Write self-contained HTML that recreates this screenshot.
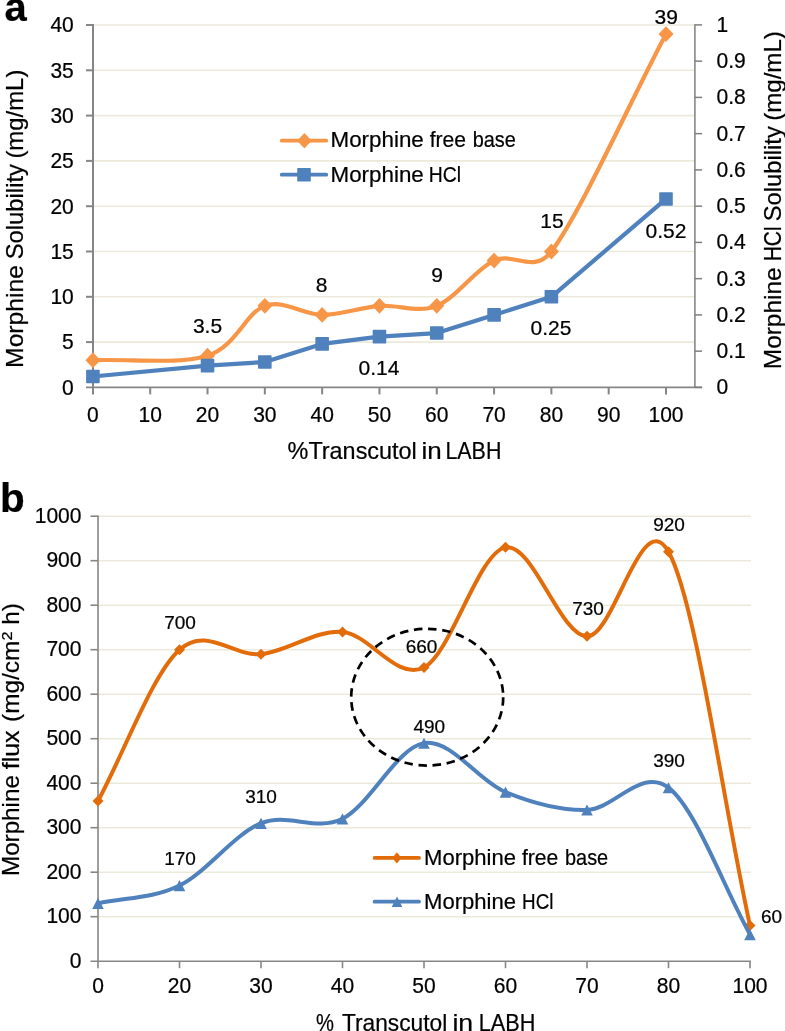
<!DOCTYPE html>
<html><head><meta charset="utf-8"><title>Figure</title>
<style>html,body{margin:0;padding:0;background:#fff}svg{display:block}text{font-family:"Liberation Sans", sans-serif;fill:#000;stroke:#000;stroke-width:0.22px}</style>
</head><body>
<svg width="785" height="1031" viewBox="0 0 785 1031">
<rect width="785" height="1031" fill="#fff"/>
<line x1="93.0" y1="342.10" x2="694.9" y2="342.10" stroke="#ECE9DB" stroke-width="1.6"/>
<line x1="93.0" y1="296.80" x2="694.9" y2="296.80" stroke="#ECE9DB" stroke-width="1.6"/>
<line x1="93.0" y1="251.50" x2="694.9" y2="251.50" stroke="#ECE9DB" stroke-width="1.6"/>
<line x1="93.0" y1="206.20" x2="694.9" y2="206.20" stroke="#ECE9DB" stroke-width="1.6"/>
<line x1="93.0" y1="160.90" x2="694.9" y2="160.90" stroke="#ECE9DB" stroke-width="1.6"/>
<line x1="93.0" y1="115.60" x2="694.9" y2="115.60" stroke="#ECE9DB" stroke-width="1.6"/>
<line x1="93.0" y1="70.30" x2="694.9" y2="70.30" stroke="#ECE9DB" stroke-width="1.6"/>
<line x1="93.0" y1="25.00" x2="694.9" y2="25.00" stroke="#ECE9DB" stroke-width="1.6"/>
<line x1="93.0" y1="24.00" x2="93.0" y2="394.40" stroke="#868686" stroke-width="2"/>
<line x1="86.0" y1="387.40" x2="702.1" y2="387.40" stroke="#868686" stroke-width="1.8"/>
<line x1="694.9" y1="24.30" x2="694.9" y2="387.40" stroke="#7F7F7F" stroke-width="1.5"/>
<line x1="86.0" y1="342.10" x2="93.0" y2="342.10" stroke="#868686" stroke-width="2"/>
<line x1="86.0" y1="296.80" x2="93.0" y2="296.80" stroke="#868686" stroke-width="2"/>
<line x1="86.0" y1="251.50" x2="93.0" y2="251.50" stroke="#868686" stroke-width="2"/>
<line x1="86.0" y1="206.20" x2="93.0" y2="206.20" stroke="#868686" stroke-width="2"/>
<line x1="86.0" y1="160.90" x2="93.0" y2="160.90" stroke="#868686" stroke-width="2"/>
<line x1="86.0" y1="115.60" x2="93.0" y2="115.60" stroke="#868686" stroke-width="2"/>
<line x1="86.0" y1="70.30" x2="93.0" y2="70.30" stroke="#868686" stroke-width="2"/>
<line x1="86.0" y1="25.00" x2="93.0" y2="25.00" stroke="#868686" stroke-width="2"/>
<line x1="150.21" y1="387.40" x2="150.21" y2="394.40" stroke="#868686" stroke-width="2"/>
<line x1="207.52" y1="387.40" x2="207.52" y2="394.40" stroke="#868686" stroke-width="2"/>
<line x1="264.83" y1="387.40" x2="264.83" y2="394.40" stroke="#868686" stroke-width="2"/>
<line x1="322.14" y1="387.40" x2="322.14" y2="394.40" stroke="#868686" stroke-width="2"/>
<line x1="379.45" y1="387.40" x2="379.45" y2="394.40" stroke="#868686" stroke-width="2"/>
<line x1="436.76" y1="387.40" x2="436.76" y2="394.40" stroke="#868686" stroke-width="2"/>
<line x1="494.07" y1="387.40" x2="494.07" y2="394.40" stroke="#868686" stroke-width="2"/>
<line x1="551.38" y1="387.40" x2="551.38" y2="394.40" stroke="#868686" stroke-width="2"/>
<line x1="608.69" y1="387.40" x2="608.69" y2="394.40" stroke="#868686" stroke-width="2"/>
<line x1="666.00" y1="387.40" x2="666.00" y2="394.40" stroke="#868686" stroke-width="2"/>
<line x1="694.9" y1="387.40" x2="702.1" y2="387.40" stroke="#7F7F7F" stroke-width="1.5"/>
<line x1="694.9" y1="351.15" x2="702.1" y2="351.15" stroke="#7F7F7F" stroke-width="1.5"/>
<line x1="694.9" y1="314.90" x2="702.1" y2="314.90" stroke="#7F7F7F" stroke-width="1.5"/>
<line x1="694.9" y1="278.65" x2="702.1" y2="278.65" stroke="#7F7F7F" stroke-width="1.5"/>
<line x1="694.9" y1="242.40" x2="702.1" y2="242.40" stroke="#7F7F7F" stroke-width="1.5"/>
<line x1="694.9" y1="206.15" x2="702.1" y2="206.15" stroke="#7F7F7F" stroke-width="1.5"/>
<line x1="694.9" y1="169.90" x2="702.1" y2="169.90" stroke="#7F7F7F" stroke-width="1.5"/>
<line x1="694.9" y1="133.65" x2="702.1" y2="133.65" stroke="#7F7F7F" stroke-width="1.5"/>
<line x1="694.9" y1="97.40" x2="702.1" y2="97.40" stroke="#7F7F7F" stroke-width="1.5"/>
<line x1="694.9" y1="61.15" x2="702.1" y2="61.15" stroke="#7F7F7F" stroke-width="1.5"/>
<line x1="694.9" y1="24.90" x2="702.1" y2="24.90" stroke="#7F7F7F" stroke-width="1.5"/>
<text transform="translate(73.80,394.70) scale(0.965,1)" font-size="21.8" text-anchor="end">0</text>
<text transform="translate(73.80,349.40) scale(0.965,1)" font-size="21.8" text-anchor="end">5</text>
<text transform="translate(73.80,304.10) scale(0.965,1)" font-size="21.8" text-anchor="end">10</text>
<text transform="translate(73.80,258.80) scale(0.965,1)" font-size="21.8" text-anchor="end">15</text>
<text transform="translate(73.80,213.50) scale(0.965,1)" font-size="21.8" text-anchor="end">20</text>
<text transform="translate(73.80,168.20) scale(0.965,1)" font-size="21.8" text-anchor="end">25</text>
<text transform="translate(73.80,122.90) scale(0.965,1)" font-size="21.8" text-anchor="end">30</text>
<text transform="translate(73.80,77.60) scale(0.965,1)" font-size="21.8" text-anchor="end">35</text>
<text transform="translate(73.80,32.30) scale(0.965,1)" font-size="21.8" text-anchor="end">40</text>
<text transform="translate(92.90,421.80) scale(0.965,1)" font-size="21.8" text-anchor="middle">0</text>
<text transform="translate(150.21,421.80) scale(0.965,1)" font-size="21.8" text-anchor="middle">10</text>
<text transform="translate(207.52,421.80) scale(0.965,1)" font-size="21.8" text-anchor="middle">20</text>
<text transform="translate(264.83,421.80) scale(0.965,1)" font-size="21.8" text-anchor="middle">30</text>
<text transform="translate(322.14,421.80) scale(0.965,1)" font-size="21.8" text-anchor="middle">40</text>
<text transform="translate(379.45,421.80) scale(0.965,1)" font-size="21.8" text-anchor="middle">50</text>
<text transform="translate(436.76,421.80) scale(0.965,1)" font-size="21.8" text-anchor="middle">60</text>
<text transform="translate(494.07,421.80) scale(0.965,1)" font-size="21.8" text-anchor="middle">70</text>
<text transform="translate(551.38,421.80) scale(0.965,1)" font-size="21.8" text-anchor="middle">80</text>
<text transform="translate(608.69,421.80) scale(0.965,1)" font-size="21.8" text-anchor="middle">90</text>
<text transform="translate(666.00,421.80) scale(0.965,1)" font-size="21.8" text-anchor="middle">100</text>
<text transform="translate(716.50,394.40) scale(0.965,1)" font-size="21.8" text-anchor="start">0</text>
<text transform="translate(716.50,358.15) scale(0.965,1)" font-size="21.8" text-anchor="start">0.1</text>
<text transform="translate(716.50,321.90) scale(0.965,1)" font-size="21.8" text-anchor="start">0.2</text>
<text transform="translate(716.50,285.65) scale(0.965,1)" font-size="21.8" text-anchor="start">0.3</text>
<text transform="translate(716.50,249.40) scale(0.965,1)" font-size="21.8" text-anchor="start">0.4</text>
<text transform="translate(716.50,213.15) scale(0.965,1)" font-size="21.8" text-anchor="start">0.5</text>
<text transform="translate(716.50,176.90) scale(0.965,1)" font-size="21.8" text-anchor="start">0.6</text>
<text transform="translate(716.50,140.65) scale(0.965,1)" font-size="21.8" text-anchor="start">0.7</text>
<text transform="translate(716.50,104.40) scale(0.965,1)" font-size="21.8" text-anchor="start">0.8</text>
<text transform="translate(716.50,68.15) scale(0.965,1)" font-size="21.8" text-anchor="start">0.9</text>
<text transform="translate(716.50,31.90) scale(0.965,1)" font-size="21.8" text-anchor="start">1</text>
<text y="459.00" font-size="23.4"><tspan x="287.58" textLength="129.21" lengthAdjust="spacingAndGlyphs">%Transcutol</tspan> <tspan x="421.44" textLength="20.27" lengthAdjust="spacingAndGlyphs">in</tspan> <tspan x="445.43" textLength="55.93" lengthAdjust="spacingAndGlyphs">LABH</tspan></text>
<text transform="translate(23.20,365.90) rotate(-90)" font-size="23.6"><tspan x="-2.03" textLength="102.82" lengthAdjust="spacingAndGlyphs">Morphine</tspan> <tspan x="106.63" textLength="95.22" lengthAdjust="spacingAndGlyphs">Solubility</tspan> <tspan x="207.31" textLength="88.98" lengthAdjust="spacingAndGlyphs">(mg/mL)</tspan></text>
<text transform="translate(780.50,367.20) rotate(-90)" font-size="23.6"><tspan x="-2.02" textLength="101.89" lengthAdjust="spacingAndGlyphs">Morphine</tspan> <tspan x="105.87" textLength="34.92" lengthAdjust="spacingAndGlyphs">HCl</tspan> <tspan x="145.93" textLength="95.12" lengthAdjust="spacingAndGlyphs">Solubility</tspan> <tspan x="246.40" textLength="89.60" lengthAdjust="spacingAndGlyphs">(mg/mL)</tspan></text>
<text x="4.6" y="21.4" font-size="40" font-weight="bold">a</text>
<path d="M92.90 360.22 C131.11 358.71 178.87 364.75 207.52 355.69 C236.18 346.63 245.73 312.65 264.83 305.86 C283.93 299.06 303.04 314.92 322.14 314.92 C341.24 314.92 360.35 307.37 379.45 305.86 C398.55 304.35 417.66 313.41 436.76 305.86 C455.86 298.31 474.97 269.62 494.07 260.56 C513.17 251.50 533.84 274.61 551.38 251.50 C580.03 213.75 627.79 106.54 666.00 34.06" fill="none" stroke="#F79646" stroke-width="4.2" stroke-linecap="round"/>
<path d="M92.90 352.32 l7.5 7.9 l-7.5 7.9 l-7.5 -7.9z" fill="#F79646"/>
<path d="M207.52 347.79 l7.5 7.9 l-7.5 7.9 l-7.5 -7.9z" fill="#F79646"/>
<path d="M264.83 297.96 l7.5 7.9 l-7.5 7.9 l-7.5 -7.9z" fill="#F79646"/>
<path d="M322.14 307.02 l7.5 7.9 l-7.5 7.9 l-7.5 -7.9z" fill="#F79646"/>
<path d="M379.45 297.96 l7.5 7.9 l-7.5 7.9 l-7.5 -7.9z" fill="#F79646"/>
<path d="M436.76 297.96 l7.5 7.9 l-7.5 7.9 l-7.5 -7.9z" fill="#F79646"/>
<path d="M494.07 252.66 l7.5 7.9 l-7.5 7.9 l-7.5 -7.9z" fill="#F79646"/>
<path d="M551.38 243.60 l7.5 7.9 l-7.5 7.9 l-7.5 -7.9z" fill="#F79646"/>
<path d="M666.00 26.16 l7.5 7.9 l-7.5 7.9 l-7.5 -7.9z" fill="#F79646"/>
<path d="M92.90 376.53 L207.52 365.66 L264.83 362.03 L322.14 343.91 L379.45 336.66 L436.76 333.04 L494.07 314.92 L551.38 296.80 L666.00 198.95" fill="none" stroke="#4F81BD" stroke-width="4.2" stroke-linecap="round" stroke-linejoin="round"/>
<rect x="86.10" y="369.73" width="13.6" height="13.6" rx="0.8" fill="#4F81BD"/>
<rect x="200.72" y="358.86" width="13.6" height="13.6" rx="0.8" fill="#4F81BD"/>
<rect x="258.03" y="355.23" width="13.6" height="13.6" rx="0.8" fill="#4F81BD"/>
<rect x="315.34" y="337.11" width="13.6" height="13.6" rx="0.8" fill="#4F81BD"/>
<rect x="372.65" y="329.86" width="13.6" height="13.6" rx="0.8" fill="#4F81BD"/>
<rect x="429.96" y="326.24" width="13.6" height="13.6" rx="0.8" fill="#4F81BD"/>
<rect x="487.27" y="308.12" width="13.6" height="13.6" rx="0.8" fill="#4F81BD"/>
<rect x="544.58" y="290.00" width="13.6" height="13.6" rx="0.8" fill="#4F81BD"/>
<rect x="659.20" y="192.15" width="13.6" height="13.6" rx="0.8" fill="#4F81BD"/>
<text x="666.3" y="24.4" font-size="21" text-anchor="middle">39</text>
<text x="552.0" y="227.5" font-size="21" text-anchor="middle">15</text>
<text x="437.0" y="282.0" font-size="21" text-anchor="middle">9</text>
<text x="321.5" y="292.0" font-size="21" text-anchor="middle">8</text>
<text x="207.5" y="332.5" font-size="21" text-anchor="middle">3.5</text>
<text x="379.0" y="375.0" font-size="21" text-anchor="middle">0.14</text>
<text x="551.0" y="335.0" font-size="21" text-anchor="middle">0.25</text>
<text x="666.0" y="237.5" font-size="21" text-anchor="middle">0.52</text>
<line x1="281.7" y1="140.7" x2="326.3" y2="140.7" stroke="#F79646" stroke-width="3.7" stroke-linecap="round"/>
<path d="M304.4 133 l7.2 7.7 l-7.2 7.7 l-7.2 -7.7z" fill="#F79646"/>
<line x1="281.7" y1="174.7" x2="326.3" y2="174.7" stroke="#4F81BD" stroke-width="3.7" stroke-linecap="round"/>
<rect x="297.2" y="167.9" width="13.6" height="13.6" rx="0.8" fill="#4F81BD"/>
<text y="146.80" font-size="21.6"><tspan x="330.56" textLength="93.23" lengthAdjust="spacingAndGlyphs">Morphine</tspan> <tspan x="429.68" textLength="36.33" lengthAdjust="spacingAndGlyphs">free</tspan> <tspan x="472.71" textLength="43.16" lengthAdjust="spacingAndGlyphs">base</tspan></text>
<text y="181.60" font-size="21.6"><tspan x="330.56" textLength="93.23" lengthAdjust="spacingAndGlyphs">Morphine</tspan> <tspan x="428.70" textLength="32.29" lengthAdjust="spacingAndGlyphs">HCl</tspan></text>
<line x1="98.0" y1="916.70" x2="751.0" y2="916.70" stroke="#ECE9DB" stroke-width="1.6"/>
<line x1="98.0" y1="872.20" x2="751.0" y2="872.20" stroke="#ECE9DB" stroke-width="1.6"/>
<line x1="98.0" y1="827.70" x2="751.0" y2="827.70" stroke="#ECE9DB" stroke-width="1.6"/>
<line x1="98.0" y1="783.20" x2="751.0" y2="783.20" stroke="#ECE9DB" stroke-width="1.6"/>
<line x1="98.0" y1="738.70" x2="751.0" y2="738.70" stroke="#ECE9DB" stroke-width="1.6"/>
<line x1="98.0" y1="694.20" x2="751.0" y2="694.20" stroke="#ECE9DB" stroke-width="1.6"/>
<line x1="98.0" y1="649.70" x2="751.0" y2="649.70" stroke="#ECE9DB" stroke-width="1.6"/>
<line x1="98.0" y1="605.20" x2="751.0" y2="605.20" stroke="#ECE9DB" stroke-width="1.6"/>
<line x1="98.0" y1="560.70" x2="751.0" y2="560.70" stroke="#ECE9DB" stroke-width="1.6"/>
<line x1="98.0" y1="516.20" x2="751.0" y2="516.20" stroke="#ECE9DB" stroke-width="1.6"/>
<line x1="98.0" y1="515.40" x2="98.0" y2="968.20" stroke="#868686" stroke-width="1.6"/>
<line x1="90.5" y1="961.20" x2="751.0" y2="961.20" stroke="#868686" stroke-width="1.6"/>
<line x1="90.5" y1="916.70" x2="98.0" y2="916.70" stroke="#868686" stroke-width="1.6"/>
<line x1="90.5" y1="872.20" x2="98.0" y2="872.20" stroke="#868686" stroke-width="1.6"/>
<line x1="90.5" y1="827.70" x2="98.0" y2="827.70" stroke="#868686" stroke-width="1.6"/>
<line x1="90.5" y1="783.20" x2="98.0" y2="783.20" stroke="#868686" stroke-width="1.6"/>
<line x1="90.5" y1="738.70" x2="98.0" y2="738.70" stroke="#868686" stroke-width="1.6"/>
<line x1="90.5" y1="694.20" x2="98.0" y2="694.20" stroke="#868686" stroke-width="1.6"/>
<line x1="90.5" y1="649.70" x2="98.0" y2="649.70" stroke="#868686" stroke-width="1.6"/>
<line x1="90.5" y1="605.20" x2="98.0" y2="605.20" stroke="#868686" stroke-width="1.6"/>
<line x1="90.5" y1="560.70" x2="98.0" y2="560.70" stroke="#868686" stroke-width="1.6"/>
<line x1="90.5" y1="516.20" x2="98.0" y2="516.20" stroke="#868686" stroke-width="1.6"/>
<line x1="179.50" y1="961.20" x2="179.50" y2="968.20" stroke="#868686" stroke-width="1.6"/>
<line x1="261.00" y1="961.20" x2="261.00" y2="968.20" stroke="#868686" stroke-width="1.6"/>
<line x1="342.50" y1="961.20" x2="342.50" y2="968.20" stroke="#868686" stroke-width="1.6"/>
<line x1="424.00" y1="961.20" x2="424.00" y2="968.20" stroke="#868686" stroke-width="1.6"/>
<line x1="505.50" y1="961.20" x2="505.50" y2="968.20" stroke="#868686" stroke-width="1.6"/>
<line x1="587.00" y1="961.20" x2="587.00" y2="968.20" stroke="#868686" stroke-width="1.6"/>
<line x1="668.50" y1="961.20" x2="668.50" y2="968.20" stroke="#868686" stroke-width="1.6"/>
<line x1="750.00" y1="961.20" x2="750.00" y2="968.20" stroke="#868686" stroke-width="1.6"/>
<text transform="translate(81.50,967.90) scale(0.965,1)" font-size="21.8" text-anchor="end">0</text>
<text transform="translate(81.50,923.40) scale(0.965,1)" font-size="21.8" text-anchor="end">100</text>
<text transform="translate(81.50,878.90) scale(0.965,1)" font-size="21.8" text-anchor="end">200</text>
<text transform="translate(81.50,834.40) scale(0.965,1)" font-size="21.8" text-anchor="end">300</text>
<text transform="translate(81.50,789.90) scale(0.965,1)" font-size="21.8" text-anchor="end">400</text>
<text transform="translate(81.50,745.40) scale(0.965,1)" font-size="21.8" text-anchor="end">500</text>
<text transform="translate(81.50,700.90) scale(0.965,1)" font-size="21.8" text-anchor="end">600</text>
<text transform="translate(81.50,656.40) scale(0.965,1)" font-size="21.8" text-anchor="end">700</text>
<text transform="translate(81.50,611.90) scale(0.965,1)" font-size="21.8" text-anchor="end">800</text>
<text transform="translate(81.50,567.40) scale(0.965,1)" font-size="21.8" text-anchor="end">900</text>
<text transform="translate(81.50,522.90) scale(0.965,1)" font-size="21.8" text-anchor="end">1000</text>
<text transform="translate(98.00,992.80) scale(0.965,1)" font-size="21.8" text-anchor="middle">0</text>
<text transform="translate(179.50,992.80) scale(0.965,1)" font-size="21.8" text-anchor="middle">20</text>
<text transform="translate(261.00,992.80) scale(0.965,1)" font-size="21.8" text-anchor="middle">30</text>
<text transform="translate(342.50,992.80) scale(0.965,1)" font-size="21.8" text-anchor="middle">40</text>
<text transform="translate(424.00,992.80) scale(0.965,1)" font-size="21.8" text-anchor="middle">50</text>
<text transform="translate(505.50,992.80) scale(0.965,1)" font-size="21.8" text-anchor="middle">60</text>
<text transform="translate(587.00,992.80) scale(0.965,1)" font-size="21.8" text-anchor="middle">70</text>
<text transform="translate(668.50,992.80) scale(0.965,1)" font-size="21.8" text-anchor="middle">80</text>
<text transform="translate(750.00,992.80) scale(0.965,1)" font-size="21.8" text-anchor="middle">100</text>
<text y="1031.40" font-size="23.4"><tspan x="315.89" textLength="17.95" lengthAdjust="spacingAndGlyphs">%</tspan> <tspan x="341.89" textLength="105.32" lengthAdjust="spacingAndGlyphs">Transcutol</tspan> <tspan x="452.40" textLength="20.76" lengthAdjust="spacingAndGlyphs">in</tspan> <tspan x="478.71" textLength="56.57" lengthAdjust="spacingAndGlyphs">LABH</tspan></text>
<text transform="translate(19.30,874.00) rotate(-90)" font-size="23.2"><tspan x="-2.00" textLength="100.86" lengthAdjust="spacingAndGlyphs">Morphine</tspan> <tspan x="104.73" textLength="38.82" lengthAdjust="spacingAndGlyphs">flux</tspan></text>
<text transform="translate(19.3,722) rotate(-90)" font-size="23.2" textLength="119" lengthAdjust="spacingAndGlyphs">(mg/cm<tspan font-size="15.5" dy="-7.5">2</tspan><tspan dy="7.5"> h)</tspan></text>
<text x="0" y="512" font-size="40.5" font-weight="bold">b</text>
<path d="M98.00 801.00 C125.17 750.57 152.33 674.18 179.50 649.70 C206.67 625.23 233.83 657.12 261.00 654.15 C288.17 651.18 315.33 629.68 342.50 631.90 C369.67 634.13 396.83 681.59 424.00 667.50 C451.17 653.41 478.33 552.54 505.50 547.35 C532.67 542.16 559.83 635.61 587.00 636.35 C614.17 637.09 641.33 503.59 668.50 551.80 C695.67 600.01 722.83 801.00 750.00 925.60" fill="none" stroke="#E36C0A" stroke-width="4" stroke-linecap="round"/>
<path d="M98.00 795.50 l5.5 5.5 l-5.5 5.5 l-5.5 -5.5z" fill="#E36C0A"/>
<path d="M179.50 644.20 l5.5 5.5 l-5.5 5.5 l-5.5 -5.5z" fill="#E36C0A"/>
<path d="M261.00 648.65 l5.5 5.5 l-5.5 5.5 l-5.5 -5.5z" fill="#E36C0A"/>
<path d="M342.50 626.40 l5.5 5.5 l-5.5 5.5 l-5.5 -5.5z" fill="#E36C0A"/>
<path d="M424.00 662.00 l5.5 5.5 l-5.5 5.5 l-5.5 -5.5z" fill="#E36C0A"/>
<path d="M505.50 541.85 l5.5 5.5 l-5.5 5.5 l-5.5 -5.5z" fill="#E36C0A"/>
<path d="M587.00 630.85 l5.5 5.5 l-5.5 5.5 l-5.5 -5.5z" fill="#E36C0A"/>
<path d="M668.50 546.30 l5.5 5.5 l-5.5 5.5 l-5.5 -5.5z" fill="#E36C0A"/>
<path d="M750.00 920.10 l5.5 5.5 l-5.5 5.5 l-5.5 -5.5z" fill="#E36C0A"/>
<path d="M98.00 903.35 C125.17 897.42 152.33 898.90 179.50 885.55 C206.67 872.20 233.83 834.38 261.00 823.25 C288.17 812.12 315.33 832.15 342.50 818.80 C369.67 805.45 396.83 747.60 424.00 743.15 C451.17 738.70 478.33 780.98 505.50 792.10 C532.67 803.23 559.83 810.64 587.00 809.90 C614.17 809.16 641.33 766.88 668.50 787.65 C695.67 808.42 722.83 885.55 750.00 934.50" fill="none" stroke="#4F81BD" stroke-width="4" stroke-linecap="round"/>
<path d="M98.00 897.85 l5.8 11.2 l-11.6 0z" fill="#4F81BD"/>
<path d="M179.50 880.05 l5.8 11.2 l-11.6 0z" fill="#4F81BD"/>
<path d="M261.00 817.75 l5.8 11.2 l-11.6 0z" fill="#4F81BD"/>
<path d="M342.50 813.30 l5.8 11.2 l-11.6 0z" fill="#4F81BD"/>
<path d="M424.00 737.65 l5.8 11.2 l-11.6 0z" fill="#4F81BD"/>
<path d="M505.50 786.60 l5.8 11.2 l-11.6 0z" fill="#4F81BD"/>
<path d="M587.00 804.40 l5.8 11.2 l-11.6 0z" fill="#4F81BD"/>
<path d="M668.50 782.15 l5.8 11.2 l-11.6 0z" fill="#4F81BD"/>
<path d="M750.00 929.00 l5.8 11.2 l-11.6 0z" fill="#4F81BD"/>
<ellipse cx="427.2" cy="697.2" rx="76" ry="68.4" fill="none" stroke="#000" stroke-width="2.7" stroke-dasharray="8.5 5.7"/>
<text x="180.0" y="629.3" font-size="19" text-anchor="middle">700</text>
<text x="421.5" y="652.8" font-size="19" text-anchor="middle">660</text>
<text x="588.0" y="615.2" font-size="19" text-anchor="middle">730</text>
<text x="669.0" y="531.0" font-size="19" text-anchor="middle">920</text>
<text x="429.3" y="732.5" font-size="19" text-anchor="middle">490</text>
<text x="261.0" y="802.6" font-size="19" text-anchor="middle">310</text>
<text x="180.0" y="865.2" font-size="19" text-anchor="middle">170</text>
<text x="669.0" y="767.0" font-size="19" text-anchor="middle">390</text>
<text x="771.5" y="923.0" font-size="19" text-anchor="middle">60</text>
<line x1="374.6" y1="857.9" x2="419" y2="857.9" stroke="#E36C0A" stroke-width="3.8" stroke-linecap="round"/>
<path d="M396.9 852.3 l4.6 5.6 l-4.6 5.6 l-4.6 -5.6z" fill="#E36C0A"/>
<line x1="374.6" y1="901.7" x2="419" y2="901.7" stroke="#4F81BD" stroke-width="3.8" stroke-linecap="round"/>
<path d="M397 896.6 l5.3 10.4 l-10.6 0z" fill="#4F81BD"/>
<text y="864.80" font-size="21.6"><tspan x="424.08" textLength="91.99" lengthAdjust="spacingAndGlyphs">Morphine</tspan> <tspan x="521.98" textLength="36.33" lengthAdjust="spacingAndGlyphs">free</tspan> <tspan x="565.01" textLength="43.16" lengthAdjust="spacingAndGlyphs">base</tspan></text>
<text y="908.80" font-size="21.6"><tspan x="424.08" textLength="91.99" lengthAdjust="spacingAndGlyphs">Morphine</tspan> <tspan x="522.05" textLength="31.41" lengthAdjust="spacingAndGlyphs">HCl</tspan></text>
</svg>
</body></html>
